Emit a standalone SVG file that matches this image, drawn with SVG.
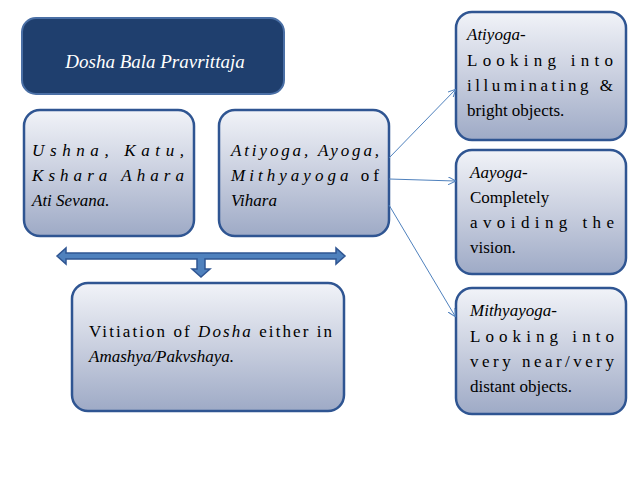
<svg xmlns="http://www.w3.org/2000/svg" width="638" height="478" viewBox="0 0 638 478">
<defs>
<linearGradient id="g" x1="0" y1="0" x2="0" y2="1"><stop offset="0" stop-color="#f1f3f8"/><stop offset="0.5" stop-color="#c9cfdf"/><stop offset="1" stop-color="#9eaac6"/></linearGradient>
<marker id="ah" markerWidth="8" markerHeight="8" refX="7" refY="4" orient="auto" markerUnits="userSpaceOnUse"><path d="M0,0 L8,4 L0,8" fill="none" stroke="#4f81bd" stroke-width="1"/></marker>
</defs>
<style>
.b{fill:url(#g);stroke:#2f5592;stroke-width:2.5}
.t{font-family:"Liberation Serif",serif;font-size:17px;fill:#000}
.i{font-style:italic}
.c{stroke:#4f81bd;stroke-width:1;fill:none;marker-end:url(#ah)}
</style>
<rect width="638" height="478" fill="#fff"/>
<g id="title"><rect x="22" y="18" width="262" height="76" rx="14" fill="#1f3f6e" stroke="#4a6fa5" stroke-width="2"/><text x="155" y="68" text-anchor="middle" font-family="Liberation Serif,serif" font-style="italic" font-size="19" fill="#fff">Dosha Bala Pravrittaja</text></g>
<g id="n1"><rect class="b" x="24" y="110" width="170" height="126" rx="16"/>
<text class="t i" x="32" y="156" textLength="152" lengthAdjust="spacing">Ushna,    Katu,</text>
<text class="t i" x="32" y="181" textLength="152" lengthAdjust="spacing">Kshara   Ahara</text>
<text class="t i" x="32" y="206">Ati Sevana.</text></g>
<g id="n2"><rect class="b" x="219" y="110" width="170" height="126" rx="16"/>
<text class="t i" x="231" y="156" textLength="148" lengthAdjust="spacing">Atiyoga, Ayoga,</text>
<text class="t" x="231" y="181" textLength="148" lengthAdjust="spacing"><tspan class="i">Mithyayoga</tspan> of</text>
<text class="t i" x="231" y="206">Vihara</text></g>
<g id="n3"><rect class="b" x="72" y="283" width="272" height="128" rx="16"/>
<text class="t" x="89" y="337" textLength="243" lengthAdjust="spacing">Vitiation of <tspan class="i">Dosha</tspan> either in</text>
<text class="t i" x="89" y="362">Amashya/Pakvshaya.</text></g>
<g id="r1"><rect class="b" x="456" y="12" width="170" height="128" rx="16"/>
<text class="t i" x="467" y="40">Atiyoga-</text>
<text class="t" x="467" y="66" textLength="146" lengthAdjust="spacing">Looking  into</text>
<text class="t" x="467" y="91" textLength="146" lengthAdjust="spacing">illuminating &amp;</text>
<text class="t" x="467" y="116">bright objects.</text></g>
<g id="r2"><rect class="b" x="456" y="150" width="170" height="124" rx="16"/>
<text class="t i" x="470" y="178">Aayoga-</text>
<text class="t" x="470" y="203">Completely</text>
<text class="t" x="470" y="228" textLength="144" lengthAdjust="spacing">avoiding  the</text>
<text class="t" x="470" y="253">vision.</text></g>
<g id="r3"><rect class="b" x="456" y="288" width="170" height="126" rx="16"/>
<text class="t i" x="470" y="316">Mithyayoga-</text>
<text class="t" x="470" y="342" textLength="144" lengthAdjust="spacing">Looking  into</text>
<text class="t" x="470" y="367" textLength="144" lengthAdjust="spacing">very near/very</text>
<text class="t" x="470" y="392">distant objects.</text></g>
<g id="connectors">
<path d="M57,256 L66,248 L66,253 L336,253 L336,248 L345,256 L336,264 L336,259 L205,259 L205,269 L210,269 L201,277 L192,269 L197,269 L197,259 L66,259 L66,264 Z" fill="#4f81bd" stroke="#2f5592" stroke-width="1.5"/>
<line class="c" x1="389" y1="158" x2="455" y2="90"/>
<line class="c" x1="389" y1="179" x2="455" y2="181"/>
<line class="c" x1="389" y1="205" x2="455" y2="316"/>
</g>
</svg>
